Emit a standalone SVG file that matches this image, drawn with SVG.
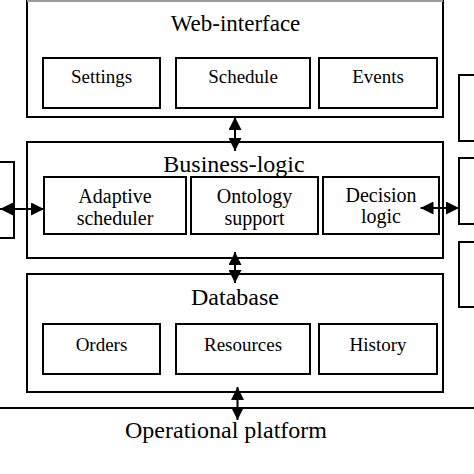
<svg xmlns="http://www.w3.org/2000/svg" width="474" height="474" viewBox="0 0 474 474">
<style>
.box{fill:#fff;stroke:#000;stroke-width:2}
.t{font-family:"Liberation Serif","Times New Roman",serif;fill:#000;text-anchor:middle}
.big{font-size:24px}
.mid{font-size:20px}
.sm{font-size:19px}
.con{stroke:#000;stroke-width:2;fill:none;marker-start:url(#ah);marker-end:url(#ah)}
</style>
<defs>
<marker id="ah" markerUnits="userSpaceOnUse" markerWidth="13" markerHeight="13" refX="12" refY="6" orient="auto-start-reverse" viewBox="0 0 12 12">
<path d="M0,0 L12,6 L0,12 z" fill="#000"/>
</marker>
</defs>
<rect width="474" height="474" fill="#fff"/>

<g id="web-interface">
<rect class="box" x="27" y="1" width="416" height="116"/>
<line x1="27" y1="1" x2="443" y2="1" stroke="#9a9a9a" stroke-width="2"/>
<text class="t" x="235.5" y="31" font-size="23">Web-interface</text>
</g>
<g id="settings"><rect class="box" x="43" y="58" width="117" height="50"/><text class="t sm" x="101.5" y="83">Settings</text></g>
<g id="schedule"><rect class="box" x="176" y="58" width="134" height="50"/><text class="t sm" x="243" y="83">Schedule</text></g>
<g id="events"><rect class="box" x="319" y="58" width="118" height="50"/><text class="t sm" x="378" y="83">Events</text></g>

<g id="business-logic">
<rect class="box" x="27" y="142" width="416" height="116"/>
<text class="t big" x="234" y="172">Business-logic</text>
</g>
<g id="adaptive-scheduler"><rect class="box" x="44" y="177" width="142" height="57"/><text class="t mid" x="115" y="203">Adaptive</text><text class="t mid" x="115" y="225">scheduler</text></g>
<g id="ontology-support"><rect class="box" x="191" y="177" width="127" height="57"/><text class="t mid" x="254.5" y="203">Ontology</text><text class="t mid" x="254.5" y="225">support</text></g>
<g id="decision-logic"><rect class="box" x="323" y="177" width="116" height="57"/><text class="t mid" x="381" y="202">Decision</text><text class="t mid" x="381" y="223">logic</text></g>

<g id="database">
<rect class="box" x="27" y="274" width="416" height="118"/>
<text class="t big" x="235" y="305">Database</text>
</g>
<g id="orders"><rect class="box" x="43" y="324" width="117" height="50"/><text class="t sm" x="101.5" y="351">Orders</text></g>
<g id="resources"><rect class="box" x="176" y="324" width="134" height="50"/><text class="t sm" x="243" y="351">Resources</text></g>
<g id="history"><rect class="box" x="319" y="324" width="118" height="50"/><text class="t sm" x="378" y="351">History</text></g>

<g id="left-box"><rect class="box" x="-2" y="162" width="16" height="76"/></g>
<g id="right-box-1"><rect class="box" x="459" y="75" width="20" height="66"/></g>
<g id="right-box-2"><rect class="box" x="459" y="158" width="20" height="66"/></g>
<g id="right-box-3"><rect class="box" x="459" y="242" width="20" height="65"/></g>

<g id="operational-platform">
<line x1="0" y1="408" x2="474" y2="408" stroke="#000" stroke-width="2"/>
<text class="t big" x="226" y="438">Operational platform</text>
</g>

<g id="connectors">
<line class="con" x1="235" y1="117" x2="235" y2="151"/>
<line class="con" x1="235" y1="252" x2="235" y2="283"/>
<line class="con" x1="237.5" y1="387" x2="237.5" y2="420"/>
<line class="con" x1="0" y1="209" x2="44" y2="209"/>
<line class="con" x1="420.5" y1="208" x2="459" y2="208"/>
</g>
</svg>
